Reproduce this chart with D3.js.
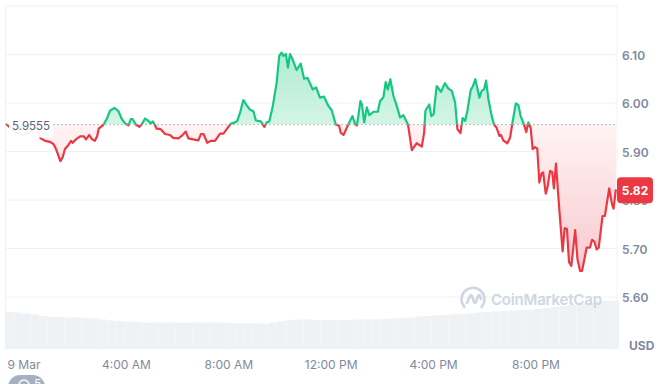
<!DOCTYPE html>
<html>
<head>
<meta charset="utf-8">
<script src="https://cdnjs.cloudflare.com/ajax/libs/d3/7.8.5/d3.min.js"></script>
<style>
  html, body { margin: 0; padding: 0; background: #fff; overflow: hidden; }
  svg { display: block; }
  text { font-family: Inter, "Noto Sans", sans-serif; }
</style>
</head>
<body>
<svg id="chart" width="659" height="384"></svg>
<script>
// hours since 00:00 on 9 Mar
const hours = [-0.70,-0.62,-0.29,-0.03,0.23,0.49,0.57,0.65,0.82,1.02,1.15,1.21,1.30,1.42,1.51,1.60,1.73,1.84,1.90,2.03,2.19,2.34,2.42,2.55,2.66,2.77,2.86,2.92,3.10,3.23,3.36,3.53,3.68,3.82,3.95,4.08,4.17,4.24,4.38,4.51,4.60,4.73,4.86,4.95,5.03,5.12,5.18,5.34,5.51,5.70,5.83,6.03,6.16,6.32,6.42,6.61,6.81,6.91,7.01,7.16,7.29,7.46,7.66,7.79,7.92,8.07,8.24,8.33,8.44,8.57,8.70,8.83,8.96,9.06,9.25,9.39,9.48,9.58,9.71,9.87,9.97,10.06,10.13,10.23,10.31,10.39,10.49,10.65,10.81,10.94,11.07,11.28,11.41,11.56,11.72,11.89,12.02,12.18,12.31,12.37,12.48,12.67,12.83,12.94,13.00,13.06,13.14,13.20,13.29,13.39,13.49,13.65,13.82,13.91,14.04,14.13,14.21,14.31,14.43,14.56,14.69,14.82,15.00,15.15,15.34,15.54,15.63,15.68,15.83,15.91,16.00,16.12,16.29,16.44,16.57,16.71,16.84,16.93,17.05,17.13,17.23,17.32,17.45,17.53,17.63,17.79,17.88,17.97,18.05,18.14,18.27,18.36,18.46,18.57,18.63,18.72,18.88,18.99,19.07,19.21,19.31,19.40,19.53,19.62,19.70,19.79,19.87,19.96,20.05,20.13,20.22,20.28,20.38,20.46,20.55,20.63,20.70,20.78,20.91,21.04,21.12,21.21,21.29,21.38,21.53,21.62,21.72,21.80,21.98,22.11,22.19,22.28,22.37,22.45,22.60,22.69,22.86,22.97,23.03,23.12]
const prices = [5.957,5.953,5.939,5.934,5.939,5.952,5.939,5.927,5.922,5.920,5.915,5.910,5.898,5.880,5.888,5.905,5.913,5.922,5.918,5.925,5.931,5.931,5.925,5.934,5.925,5.922,5.932,5.947,5.955,5.967,5.984,5.990,5.984,5.967,5.958,5.954,5.967,5.967,5.955,5.951,5.956,5.968,5.963,5.958,5.962,5.954,5.947,5.946,5.936,5.934,5.928,5.927,5.932,5.941,5.927,5.925,5.923,5.936,5.936,5.918,5.922,5.922,5.937,5.937,5.946,5.957,5.960,5.963,5.980,6.006,5.995,5.986,5.983,5.964,5.962,5.951,5.960,5.962,5.991,6.042,6.097,6.104,6.097,6.101,6.073,6.101,6.090,6.068,6.081,6.050,6.052,6.028,6.032,6.011,6.013,5.994,5.985,5.9555,5.953,5.939,5.934,5.956,5.973,5.956,5.954,5.973,6.004,5.997,5.960,5.991,5.975,5.982,5.982,6.004,6.012,6.043,6.028,6.049,6.015,5.994,5.970,5.975,5.9555,5.903,5.917,5.910,5.939,5.984,5.997,5.973,5.977,6.035,6.023,6.041,6.030,6.025,6.001,5.946,5.938,5.969,5.963,5.984,6.027,6.034,6.049,6.011,6.025,6.028,6.046,6.008,5.973,5.956,5.949,5.932,5.934,5.923,5.917,5.929,5.956,5.999,5.996,5.973,5.956,5.940,5.960,5.949,5.905,5.909,5.906,5.836,5.855,5.857,5.813,5.829,5.860,5.858,5.824,5.875,5.781,5.694,5.742,5.740,5.672,5.664,5.738,5.678,5.654,5.654,5.702,5.702,5.718,5.714,5.698,5.702,5.767,5.767,5.824,5.791,5.782,5.822]
// one volume bar per 20 minutes, relative units
const volumes = [73,72,70,68,65,63,63,62,62,61,60,58,56,55,54,53,52,52,52,52,52,52,52,52,52,52,51,50,50,50,50,52,55,57,58,58,57,57,57,57,57,58,58,58,59,60,61,62,64,65,66,67,68,69,70,72,73,74,75,76,77,78,79,81,83,85,87,89,92,94,95,96]
const yTicks = [5.60, 5.70, 5.80, 5.90, 6.00, 6.10]
const xTickHours = [0, 4, 8, 12, 16, 20]
const xTickLabels = ['9 Mar', '4:00 AM', '8:00 AM', '12:00 PM', '4:00 PM', '8:00 PM']
const basePrice = 5.9555
const lastPrice = 5.82

const green = '#16c784', red = '#ea3943', grey = '#808a9d', gridColor = '#eff2f5'
const plotLeft = 5.5, plotRight = 617, plotTop = 6, plotBottom = 348.5
const volStart = -0.75, volStep = 1 / 3

const svg = d3.select('#chart')
const scaleX = d3.scaleLinear().domain([0, 20]).range([24, 536])
const scaleY = d3.scaleLinear().domain([5.6, 6.1]).range([297, 54.5])
const scaleVol = d3.scaleLinear().domain([0, 96]).range([plotBottom, 300.5])

const data = hours.map((h, i) => ({ h, p: prices[i] }))

const defs = svg.append('defs')
const gradient = (id, y1, y2, stops) => {
  const g = defs.append('linearGradient').attr('id', id)
    .attr('gradientUnits', 'userSpaceOnUse')
    .attr('x1', 0).attr('x2', 0).attr('y1', y1).attr('y2', y2)
  stops.forEach(s => g.append('stop').attr('offset', s[0]).attr('stop-color', s[1]))
}
gradient('fillUp', scaleY(6.1), scaleY(basePrice), [[0, '#b2ebd2'], [1, '#d3f5e6']])
gradient('fillDown', scaleY(basePrice), scaleY(5.65), [[0, '#fff3f4'], [1, '#f8c9cd']])

const baseY = scaleY(basePrice)
defs.append('clipPath').attr('id', 'above').append('rect')
  .attr('x', 0).attr('y', 0).attr('width', plotRight).attr('height', baseY)
defs.append('clipPath').attr('id', 'below').append('rect')
  .attr('x', 0).attr('y', baseY).attr('width', plotRight).attr('height', 384 - baseY)

// frame and grid
svg.append('rect').attr('x', plotLeft).attr('y', plotTop).attr('width', plotRight - plotLeft).attr('height', plotBottom - plotTop)
  .attr('fill', 'none').attr('stroke', gridColor)
svg.append('g').selectAll('line').data(yTicks).join('line')
  .attr('x1', plotLeft).attr('x2', plotRight)
  .attr('y1', d => scaleY(d)).attr('y2', d => scaleY(d))
  .attr('stroke', gridColor)

// volume
svg.append('g').selectAll('rect').data(volumes).join('rect')
  .attr('x', (d, i) => scaleX(volStart + i * volStep))
  .attr('width', scaleX(volStep) - scaleX(0))
  .attr('y', d => scaleVol(d))
  .attr('height', d => plotBottom - scaleVol(d))
  .attr('fill', '#eff2f5')

// price
const area = d3.area().x(d => scaleX(d.h)).y0(baseY).y1(d => scaleY(d.p))
const line = d3.line().x(d => scaleX(d.h)).y(d => scaleY(d.p))

svg.append('path').datum(data).attr('d', area).attr('fill', 'url(#fillUp)').attr('clip-path', 'url(#above)')
svg.append('path').datum(data).attr('d', area).attr('fill', 'url(#fillDown)').attr('clip-path', 'url(#below)')

svg.append('line')
  .attr('x1', plotLeft).attr('x2', plotRight).attr('y1', baseY).attr('y2', baseY)
  .attr('stroke', '#58667e').attr('stroke-dasharray', '1 3').attr('opacity', 0.8)

svg.append('path').datum(data).attr('d', line).attr('fill', 'none')
  .attr('stroke', green).attr('stroke-width', 2.2).attr('stroke-linejoin', 'round').attr('clip-path', 'url(#above)')
svg.append('path').datum(data).attr('d', line).attr('fill', 'none')
  .attr('stroke', red).attr('stroke-width', 2.2).attr('stroke-linejoin', 'round').attr('clip-path', 'url(#below)')

// base price label
svg.append('rect').attr('x', 9).attr('y', baseY - 8).attr('width', 44).attr('height', 21).attr('rx', 4)
  .attr('fill', '#fff').attr('opacity', 0.92)
svg.append('text').attr('x', 12).attr('y', baseY + 5.5).attr('font-size', 11.5).attr('fill', '#58667e')
  .text(basePrice.toFixed(4))

// axes text
svg.append('g').selectAll('text').data(yTicks).join('text')
  .attr('x', 622).attr('y', d => scaleY(d) + 5)
  .attr('font-size', 12).attr('font-weight', 600).attr('fill', grey)
  .text(d => d.toFixed(2))
svg.append('g').selectAll('text').data(xTickHours).join('text')
  .attr('x', d => scaleX(d)).attr('y', 368.5).attr('text-anchor', 'middle')
  .attr('font-size', 12).attr('fill', grey)
  .text((d, i) => xTickLabels[i])
svg.append('text').attr('x', 629).attr('y', 350).attr('font-size', 12).attr('font-weight', 700).attr('fill', grey).text('USD')

// last price tag
const lastY = scaleY(lastPrice)
svg.append('rect').attr('x', 617).attr('y', lastY - 13).attr('width', 36).attr('height', 26).attr('rx', 4).attr('fill', red)
svg.append('text').attr('x', 635).attr('y', lastY + 4.5).attr('text-anchor', 'middle')
  .attr('font-size', 12).attr('font-weight', 700).attr('fill', '#fff').text(lastPrice.toFixed(2))

// watermark
const mark = svg.append('g').attr('transform', 'translate(473,299)').attr('fill', 'none')
  .attr('stroke', '#cfd6e4').attr('stroke-width', 2.6).attr('stroke-linecap', 'round')
mark.append('path').attr('d', 'M-8.5 8 A11.5 11.5 0 1 1 8.5 8')
mark.append('path').attr('d', 'M-6 4 L-3 -3 Q-2 -5 -1 -3 L1 3 Q2 5 3 3 L5 -3 Q6 -5 7 -3 L8 0')
svg.append('text').attr('x', 491).attr('y', 305).attr('font-size', 15).attr('font-weight', 600)
  .attr('fill', '#cfd6e4').attr('textLength', 111).text('CoinMarketCap')

// clipped pill at the bottom edge
svg.append('rect').attr('x', 8).attr('y', 375).attr('width', 37).attr('height', 24).attr('rx', 12).attr('fill', '#a6b0c3')
svg.append('circle').attr('cx', 24).attr('cy', 385).attr('r', 5).attr('fill', 'none').attr('stroke', '#fff').attr('stroke-width', 1.5)
svg.append('text').attr('x', 34).attr('y', 388).attr('font-size', 12).attr('fill', '#fff').text('5')
</script>
</body>
</html>
